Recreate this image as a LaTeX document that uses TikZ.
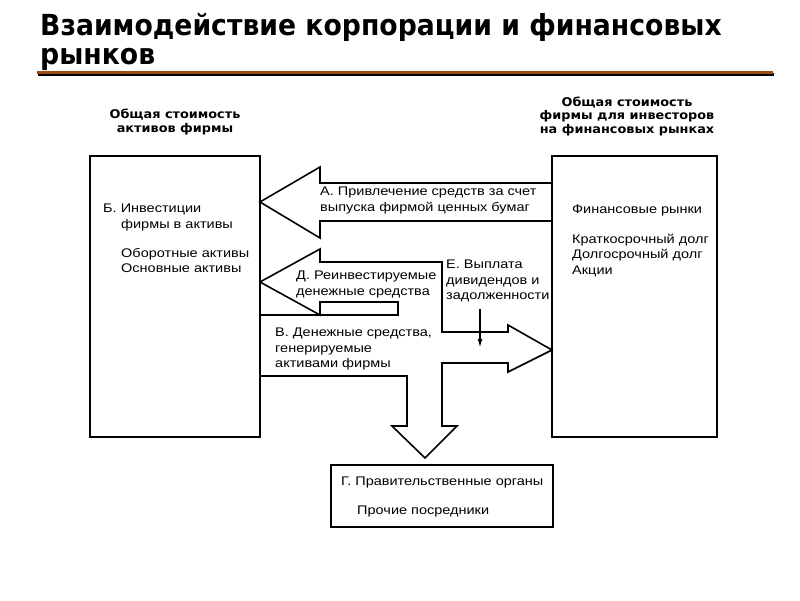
\documentclass[tikz,border=0pt]{standalone}
\usepackage{fontspec}
\setmainfont[FakeStretch=1.16]{Liberation Sans}
\newfontfamily\titlefont[FakeStretch=0.92]{DejaVu Sans}
\newfontfamily\hdrfont[FakeStretch=1.07]{DejaVu Sans}
\usetikzlibrary{arrows.meta,positioning}
\definecolor{rulebrown}{RGB}{153,78,22}
\definecolor{shade}{RGB}{160,160,160}

\begin{document}
\begin{tikzpicture}[x=1pt,y=-1pt,
    frame/.style={draw,line width=1.6pt,inner sep=0pt},
    flow/.style={line width=1.6pt,line join=miter},
    lbl/.style={anchor=north west,inner sep=0pt,align=left,font=\fontsize{12.5}{15.5}\selectfont},
    hdr/.style={inner sep=0pt,align=center,font=\hdrfont\bfseries\fontsize{12}{13.5}\selectfont}]
  \useasboundingbox (0,0) rectangle (800,600);
  % title and rule
  \node[anchor=north west,inner sep=0pt,align=left,font=\titlefont\bfseries\fontsize{29}{29}\selectfont]
    (title) at (40,13) {Взаимодействие корпорации и финансовых\\рынков};
  \draw[shade,line width=3pt] (38,74.5) -- (774,74.5);
  \draw[rulebrown,line width=3.5pt] (37,72.5) -- (773,72.5);

  % boxes
  \node[frame,minimum width=170pt,minimum height=281pt] (assets) at (175,296.5) {};
  \node[frame,minimum width=165pt,minimum height=281pt] (market) at (634.5,296.5) {};
  \node[frame,minimum width=222pt,minimum height=62pt] (gov) at (442,496) {};

  % headers
  \node[hdr] (assetshdr) at (175,122) {Общая стоимость\\активов фирмы};
  \node[hdr] (markethdr) at (627,116) {Общая стоимость\\фирмы для инвесторов\\на финансовых рынках};

  % block arrows
  \draw[flow] (552,183) -- (320,183) -- (320,167) -- (260,202) -- (320,238) -- (320,221) -- (552,221);
  \draw[flow] (260,282) -- (320,249) -- (320,262) -- (442,262) -- (442,332) -- (508,332) -- (508,325)
    -- (552,350) -- (508,372) -- (508,363) -- (442,363) -- (442,426) -- (457,426) -- (425,458)
    -- (392,426) -- (407,426) -- (407,376) -- (260,376);
  \draw[flow] (260,282) -- (320,315) -- (320,302) -- (398,302) -- (398,315) -- (260,315);

  % texts
  \node[lbl] (invest) at (103,204) {Б. Инвестиции\\\hspace*{18pt}фирмы в активы};
  \node[lbl] (kinds) at (121,248) {Оборотные активы\\Основные активы};
  \node[lbl] (raise) at (320,187) {А. Привлечение средств за счет\\выпуска фирмой ценных бумаг};
  \node[lbl] (reinv) at (296,271) {Д. Реинвестируемые\\денежные средства};
  \node[lbl] (payout) at (446,260) {Е. Выплата\\дивидендов и\\задолженности};
  \node[lbl] (cash) at (275,328) {В. Денежные средства,\\генерируемые\\активами фирмы};
  \node[lbl] (fin) at (572,205) {Финансовые рынки};
  \node[lbl] (debt) at (572,234) {Краткосрочный долг\\Долгосрочный долг\\Акции};
  \node[lbl] (govt) at (341,477) {Г. Правительственные органы};
  \node[lbl] (other) at (357,506) {Прочие посредники};

  % small arrow in E
  \coordinate (eTop) at (480,309);
  \coordinate (eEnd) at (480,348);
  \draw[line width=1.6pt,-{Latex[length=9pt,width=5pt]}] (eTop) -- (eEnd);
\end{tikzpicture}
\end{document}
